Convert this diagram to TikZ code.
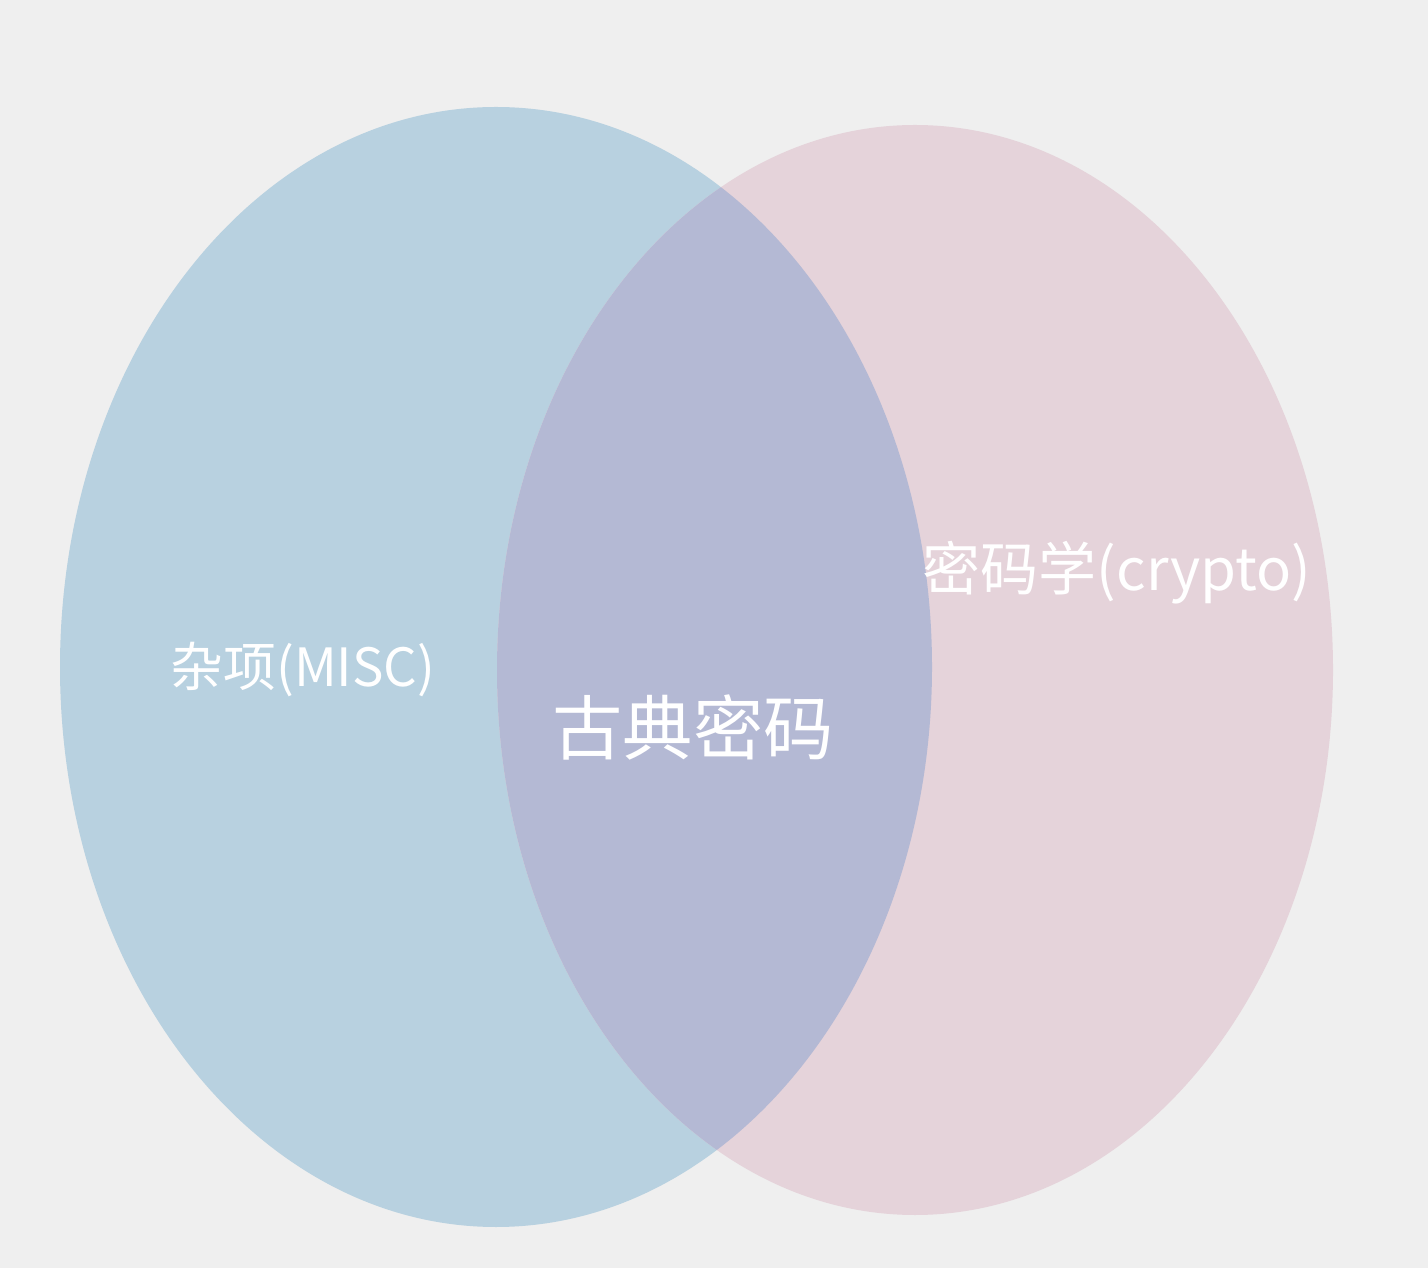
\documentclass[tikz,border=0pt]{standalone}
\usepackage{fontspec}
\setmainfont{Noto Sans CJK SC}
\definecolor{bg}{RGB}{239,239,239}
\definecolor{blueE}{RGB}{184,209,224}
\definecolor{pinkE}{RGB}{229,211,218}
\definecolor{midE}{RGB}{180,185,212}
\tikzset{lbl/.style={text=white,inner sep=0pt}}
\begin{document}
\begin{tikzpicture}[x=0.01cm,y=-0.01cm]
\fill[bg] (0,0) rectangle (1428,1268);
\useasboundingbox (0,0) rectangle (1428,1268);
\fill[blueE] (496,667) ellipse [x radius=436, y radius=560];
\fill[pinkE] (915,670) ellipse [x radius=418, y radius=545];
\begin{scope}
\clip (496,667) ellipse [x radius=436, y radius=560];
\fill[midE] (915,670) ellipse [x radius=418, y radius=545];
\end{scope}
\node[lbl,font=\fontsize{15}{18}\selectfont] (misc) at (303,670) {杂项(MISC)};
\node[lbl,font=\fontsize{20}{24}\selectfont] (classic) at (693,727) {古典密码};
\node[lbl,font=\fontsize{16.5}{20}\selectfont] (crypto) at (1117,573) {密码学(crypto)};
\end{tikzpicture}
\end{document}
